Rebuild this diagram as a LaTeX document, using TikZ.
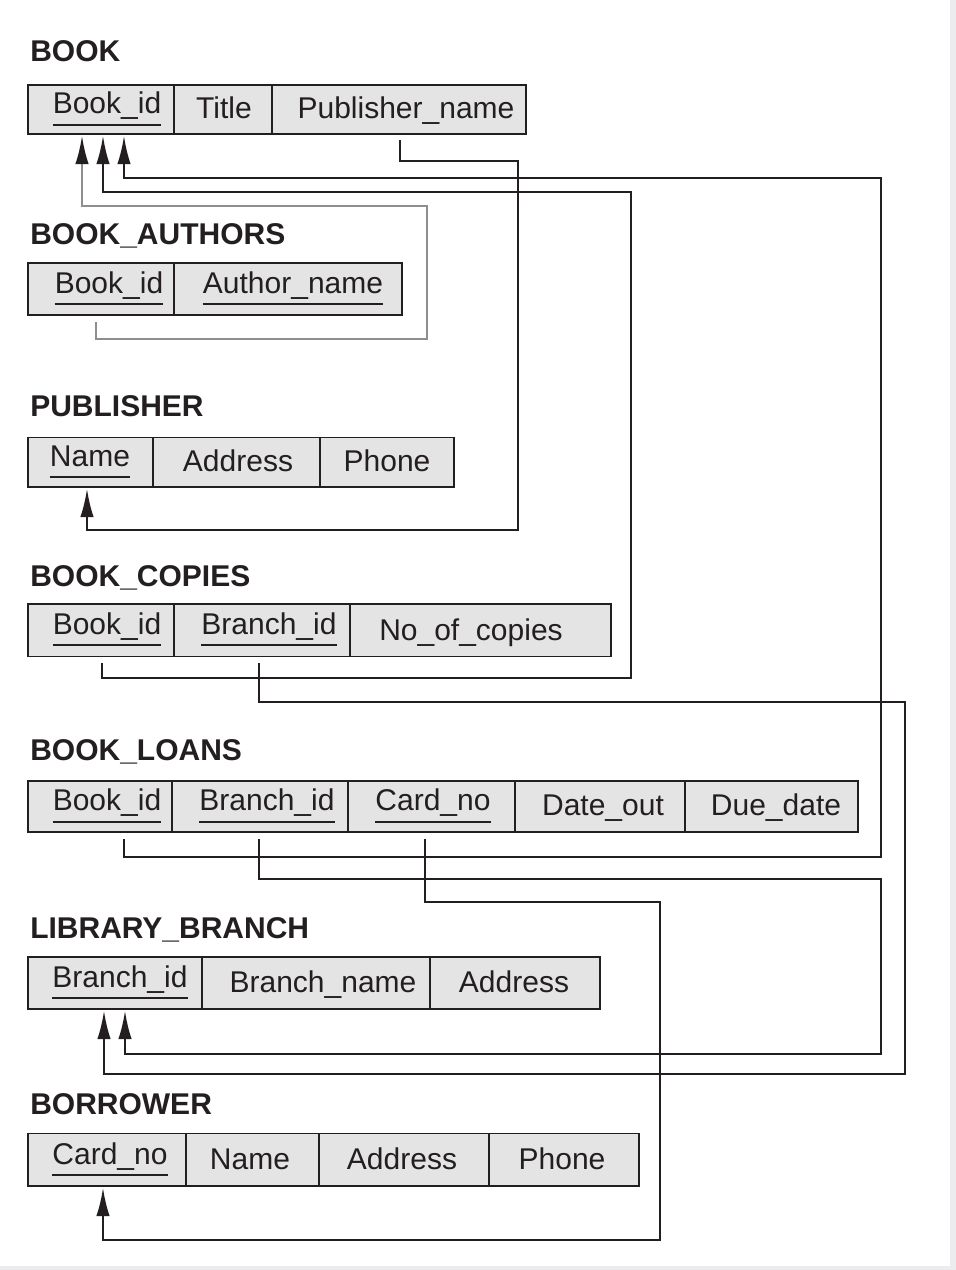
\documentclass[tikz,border=0pt]{standalone}
\usepackage{fontspec}
\setmainfont{Liberation Sans}
\usetikzlibrary{arrows.meta}
\definecolor{cellgray}{HTML}{E4E4E4}
\definecolor{bandgray}{HTML}{ECECEE}
\definecolor{linegray}{HTML}{8E8E8E}
\definecolor{ink}{HTML}{231F20}
\tikzset{
  cellbox/.style={draw=ink, fill=cellgray, line width=1.4pt, inner sep=0pt, rectangle},
  attr/.style={inner sep=0pt, anchor=base, text=ink, font=\fontsize{22.5}{26}\selectfont},
  ttl/.style={inner sep=0pt, anchor=base west, text=ink, font=\fontsize{22.5}{26}\selectfont\bfseries},
  uline/.style={draw=ink, line width=1.5pt},
  fk/.style={draw=ink, line width=1.4pt, -{Latex[length=21pt,width=10pt]}},
  fkgray/.style={draw=linegray, line width=1.4pt, -{Latex[length=21pt,width=10pt,color=ink]}},
}
\newcommand\tcell[5]{%
  \node[cellbox, minimum width={(#3-#2)*0.75pt}, minimum height={(#5-#4)*0.75pt}, anchor=north west] (#1) at (#2,#4) {};}
\newcommand\attr[4]{\node[attr] (#1) at (#2,#3) {#4};}
\newcommand\keyattr[4]{\node[attr] (#1) at (#2,#3) {#4};
  \draw[uline] ([yshift=-8.25pt]#1.base west) -- ([yshift=-8.25pt]#1.base east);}
\begin{document}
\begin{tikzpicture}[x=0.75pt,y=-0.75pt]
\useasboundingbox (0,0) rectangle (956,1270);
\fill[white] (0,0) rectangle (956,1270);
\fill[bandgray] (950,0) rectangle (956,1270);
\fill[bandgray] (0,1266) rectangle (956,1270);

% BOOK
\node[ttl] (t-book) at (30,62) {BOOK};
\tcell{bk-bid}{27}{173}{84}{133}
\tcell{bk-title}{173}{271}{84}{133}
\tcell{bk-pub}{271}{525}{84}{133}
\keyattr{bk-bid-t}{107}{113.5}{Book\_id}
\attr{bk-title-t}{224}{118.5}{Title}
\attr{bk-pub-t}{406}{118.5}{Publisher\_name}

% BOOK_AUTHORS
\node[ttl] (t-ba) at (30,244) {BOOK\_AUTHORS};
\tcell{ba-bid}{27}{173}{262}{314}
\tcell{ba-an}{173}{401}{262}{314}
\keyattr{ba-bid-t}{109}{293}{Book\_id}
\keyattr{ba-an-t}{293}{293}{Author\_name}

% PUBLISHER
\node[ttl] (t-pub) at (30,416) {PUBLISHER};
\tcell{pub-name}{27}{152}{436.5}{486}
\tcell{pub-addr}{152}{319}{436.5}{486}
\tcell{pub-phone}{319}{453}{436.5}{486}
\keyattr{pub-name-t}{90}{466}{Name}
\attr{pub-addr-t}{238}{471}{Address}
\attr{pub-phone-t}{387}{471}{Phone}

% BOOK_COPIES
\node[ttl] (t-bc) at (30,586) {BOOK\_COPIES};
\tcell{bc-bid}{27}{173}{603}{655.5}
\tcell{bc-brid}{173}{349}{603}{655.5}
\tcell{bc-noc}{349}{610}{603}{655.5}
\keyattr{bc-bid-t}{107}{634}{Book\_id}
\keyattr{bc-brid-t}{269}{634}{Branch\_id}
\attr{bc-noc-t}{471}{640}{No\_of\_copies}

% BOOK_LOANS
\node[ttl] (t-bl) at (30,760) {BOOK\_LOANS};
\tcell{bl-bid}{27}{171}{780}{831}
\tcell{bl-brid}{171}{347}{780}{831}
\tcell{bl-card}{347}{514}{780}{831}
\tcell{bl-dout}{514}{684}{780}{831}
\tcell{bl-due}{684}{857}{780}{831}
\keyattr{bl-bid-t}{107}{810.5}{Book\_id}
\keyattr{bl-brid-t}{267}{810.5}{Branch\_id}
\keyattr{bl-card-t}{433}{810.5}{Card\_no}
\attr{bl-dout-t}{603}{815.5}{Date\_out}
\attr{bl-due-t}{776}{815.5}{Due\_date}

% LIBRARY_BRANCH
\node[ttl] (t-lb) at (30,938) {LIBRARY\_BRANCH};
\tcell{lb-brid}{27}{201}{956}{1008}
\tcell{lb-bname}{201}{429}{956}{1008}
\tcell{lb-addr}{429}{599}{956}{1008}
\keyattr{lb-brid-t}{120}{987}{Branch\_id}
\attr{lb-bname-t}{323}{992}{Branch\_name}
\attr{lb-addr-t}{514}{992}{Address}

% BORROWER
\node[ttl] (t-br) at (30,1114) {BORROWER};
\tcell{br-card}{27}{185}{1132.5}{1185}
\tcell{br-name}{185}{318}{1132.5}{1185}
\tcell{br-addr}{318}{488}{1132.5}{1185}
\tcell{br-phone}{488}{638}{1132.5}{1185}
\keyattr{br-card-t}{110}{1164}{Card\_no}
\attr{br-name-t}{250}{1169}{Name}
\attr{br-addr-t}{402}{1169}{Address}
\attr{br-phone-t}{562}{1169}{Phone}

% connector end points
\coordinate (s-bkpub) at (400,140);  \coordinate (e-pubname) at (87,489);
\coordinate (s-babid) at (96,322);   \coordinate (e-bkbid1) at (82,136);
\coordinate (s-bcbid) at (102,663);  \coordinate (e-bkbid2) at (103,136);
\coordinate (s-blbid) at (124,839);  \coordinate (e-bkbid3) at (124,136);
\coordinate (s-bcbr) at (259,663);   \coordinate (e-lbbr1) at (104,1011);
\coordinate (s-blbr) at (259,839);   \coordinate (e-lbbr2) at (125,1011);
\coordinate (s-blcard) at (425,839); \coordinate (e-brcard) at (103,1188);

% connectors
\draw[fk] (s-bkpub) |- (518,161) |- (87,530) -- (e-pubname);
\draw[fkgray] (s-babid) |- (427,339) |- (82,206) -- (e-bkbid1);
\draw[fk] (s-bcbid) |- (631,678) |- (103,192) -- (e-bkbid2);
\draw[fk] (s-blbid) |- (881,857) |- (124,178) -- (e-bkbid3);
\draw[fk] (s-bcbr) |- (905,702) |- (104,1074) -- (e-lbbr1);
\draw[fk] (s-blbr) |- (881,879) |- (125,1054) -- (e-lbbr2);
\draw[fk] (s-blcard) |- (660,902) |- (103,1240) -- (e-brcard);
\end{tikzpicture}
\end{document}
